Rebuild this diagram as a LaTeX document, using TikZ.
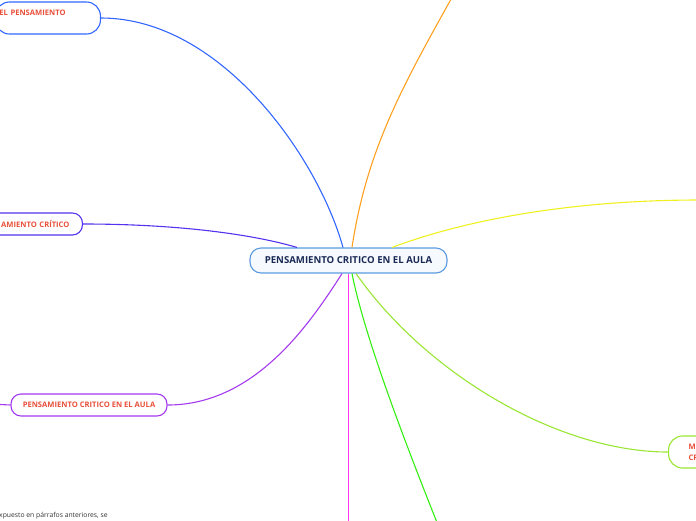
\documentclass[tikz,border=0pt]{standalone}
\usepackage{fontspec}
\setmainfont{Open Sans}
\definecolor{cblue}{HTML}{5A9BE0}
\definecolor{cfill}{HTML}{F6FAFF}
\definecolor{navy}{HTML}{1B2A55}
\definecolor{txtred}{HTML}{E8503A}
\definecolor{bA}{HTML}{3366FF}
\definecolor{bB}{HTML}{5533EE}
\definecolor{bC}{HTML}{A43AF0}
\definecolor{bD}{HTML}{99E633}
\definecolor{corange}{HTML}{FFA020}
\definecolor{cyellow}{HTML}{F0F020}
\definecolor{cmagenta}{HTML}{FF33EE}
\definecolor{cgreen}{HTML}{33EE11}
\begin{document}
\begin{tikzpicture}[x=1pt,y=-1pt,
  box/.style={draw, rounded corners=10pt, font=\bfseries\fontsize{7.6}{11}\selectfont, text=txtred, fill=white, line width=1.1pt},
  conn/.style={line width=1.1pt}]
\useasboundingbox (0,0) rectangle (696,520);
\clip (0,0) rectangle (696,520);
% nodes
\node[draw=cblue, fill=cfill, rounded corners=11pt, minimum height=25pt, minimum width=197pt, line width=1.1pt,
      font=\bfseries\fontsize{9.6}{11}\selectfont, text=navy] (c) at (348.5,260.5) {PENSAMIENTO CRITICO EN EL AULA};
\node[box, draw=bA, rounded corners=14pt, anchor=east, text width=97pt, align=left, inner xsep=4pt, inner ysep=3pt,
      text height=10pt, text depth=16pt] (n1) at (101,18) {EL PENSAMIENTO};
\node[box, draw=bB, anchor=east, text width=80pt, align=right, inner xsep=13pt, minimum height=22pt] (n2) at (83,224) {AMIENTO CRÍTICO};
\node[box, draw=bC, minimum height=22pt, minimum width=156pt] (n3) at (89,405) {PENSAMIENTO CRITICO EN EL AULA};
\node[box, draw=bD, rounded corners=14pt, anchor=west, text width=30pt, align=left, inner xsep=20pt, minimum height=32pt] (n4) at (668,452) {M\\CR};
\node[anchor=base west, font=\fontsize{6.8}{8}\selectfont, text=black!80, inner sep=0pt] (t) at (-1,517.5) {xpuesto en párrafos anteriores, se};
% free ends
\coordinate (oend) at (455,-8);
\coordinate (yend) at (700,200);
\coordinate (mend) at (348.5,530);
\coordinate (gend) at (440,530);
\coordinate (lstub) at (-20,403.5);
% connectors
\draw[conn, bA] (n1.east) .. controls +(120,0) and +(-25,-90) .. ([xshift=-5.5pt]c.north);
\draw[conn, bB] (n2.east) .. controls +(100,0) and +(-40,-12) .. ([xshift=-51.5pt]c.north);
\draw[conn, bC] (n3.east) .. controls +(85,0) and +(-35,55) .. ([xshift=-6.5pt]c.south);
\draw[conn, bC] (n3.west) -- (lstub);
\draw[conn, bD] ([xshift=7.5pt]c.south) .. controls +(70,100) and +(-110,0) .. (n4.west);
\draw[conn, cmagenta] (c.south) -- (mend);
\draw[conn, cgreen] ([xshift=3.5pt]c.south) .. controls +(12,60) and +(-40,-100) .. (gend);
\draw[conn, corange] ([xshift=3.5pt]c.north) .. controls +(15,-100) and +(-50,90) .. (oend);
\draw[conn, cyellow] ([xshift=43.5pt]c.north) .. controls +(80,-30) and +(-120,0) .. (yend);
\end{tikzpicture}
\end{document}
